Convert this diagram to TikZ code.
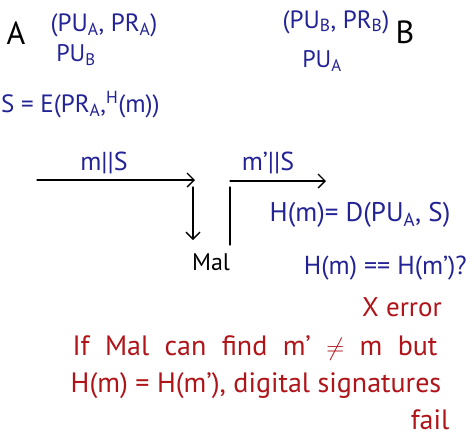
\documentclass[tikz,border=0pt]{standalone}
\usepackage{fontspec}
\setmainfont{PT Sans}
\usetikzlibrary{arrows.meta}
\definecolor{inkblue}{RGB}{35,35,150}
\definecolor{inkred}{RGB}{175,20,25}
\tikzset{
  blueink/.style={text=inkblue,inner sep=0pt},
  redink/.style={text=inkred,inner sep=0pt},
  blackink/.style={text=black,inner sep=0pt},
  wire/.style={draw=black,line width=1.3pt,line cap=round},
  msg/.style={wire,-{Straight Barb[length=7pt,width=14pt,line width=1.3pt]}}
}
\newcommand{\fs}[1]{\fontsize{#1}{#1}\selectfont}
\begin{document}
\begin{tikzpicture}[x=1pt,y=1pt,yscale=-1]
  \useasboundingbox (0,0) rectangle (474,437);
  % parties and keys
  \node[blackink,font=\fs{32}] (A) at (16,33) {A};
  \node[blueink,font=\fs{25}] (keysA) at (104,25) {(PU\textsubscript{A}, PR\textsubscript{A})};
  \node[blueink,font=\fs{24}] (pubB) at (76,55) {PU\textsubscript{B}};
  \node[blueink,font=\fs{25}] (keysB) at (336,22) {(PU\textsubscript{B}, PR\textsubscript{B})};
  \node[blackink,font=\fs{32}] (B) at (405,32) {B};
  \node[blueink,font=\fs{24}] (pubA) at (322,61) {PU\textsubscript{A}};
  % signature
  \node[blueink,font=\fs{25},anchor=west] (sig) at (1,105) {S = E(PR\textsubscript{A},\textsuperscript{H}(m))};
  % channel
  \coordinate (srcA) at (37,180);
  \coordinate (tapIn) at (195,180);
  \coordinate (tapTop) at (193,187);
  \coordinate (malIn) at (193,240);
  \coordinate (fwdTop) at (230,187);
  \coordinate (fwdBot) at (230,245);
  \coordinate (fwdOut) at (230,181);
  \coordinate (dstB) at (326,181);
  \draw[msg] (srcA) -- (tapIn);
  \draw[msg] (tapTop) -- (malIn);
  \draw[wire] (fwdTop) -- (fwdBot);
  \draw[msg] (fwdOut) -- (dstB);
  \node[blueink,font=\fs{26}] (mS) at (104,163) {m||S};
  \node[blueink,font=\fs{26}] (mpS) at (268,163) {m'||S};
  \node[blackink,font=\fs{24}] (mal) at (211,262) {Mal};
  % verification at B
  \node[blueink,font=\fs{27}] (verify) at (360,215) {H(m)= D(PU\textsubscript{A}, S)};
  \node[blueink,font=\fs{26},anchor=east] (compare) at (467,268) {H(m) == H(m')?};
  \node[redink,font=\fs{27}] (err) at (402,307) {X error};
  % conclusion
  \node[redink,font=\fs{28}] (line1) at (255,348) {\spaceskip=0.55em If Mal can find m' $\neq$ m but};
  \node[redink,font=\fs{28}] (line2) at (256,386) {H(m) = H(m'), digital signatures};
  \node[redink,font=\fs{28}] (fail) at (430,420) {fail};
\end{tikzpicture}
\end{document}
